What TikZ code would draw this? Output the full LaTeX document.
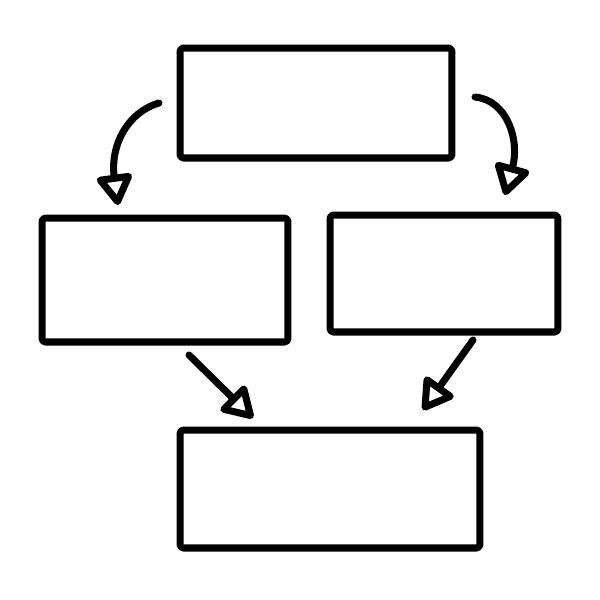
\documentclass[tikz,border=0pt]{standalone}
\usetikzlibrary{arrows.meta}
\begin{document}
\begin{tikzpicture}[x=0.02cm,y=-0.02cm,
  box/.style={draw=black,line width=4pt,rounded corners=2pt,inner sep=0pt,line join=round},
  arr/.style={draw=black,line width=4pt,line cap=round,line join=round,
    -{Triangle[open,length=0.68cm,width=0.78cm,line join=round]}}]
\useasboundingbox (0,0) rectangle (600,600);
\node[box,minimum width=5.44cm,minimum height=2.2cm] (top) at (316,103) {};
\node[box,minimum width=4.92cm,minimum height=2.48cm] (left) at (165,280) {};
\node[box,minimum width=4.56cm,minimum height=2.34cm] (right) at (444,273.5) {};
\node[box,minimum width=6cm,minimum height=2.36cm] (bottom) at (330,489) {};
\coordinate (a1s) at (159,103);
\coordinate (a1e) at (118,205);
\coordinate (a2s) at (475,97);
\coordinate (a2e) at (505,195);
\coordinate (a3s) at (189,355);
\coordinate (a3e) at (253,418);
\coordinate (a4s) at (473,340);
\coordinate (a4e) at (423,410);
\draw[arr] (a1s) .. controls (128,112) and (110,145) .. (a1e);
\draw[arr] (a2s) .. controls (507,100) and (520,140) .. (a2e);
\draw[arr] (a3s) -- (a3e);
\draw[arr] (a4s) -- (a4e);
\end{tikzpicture}
\end{document}
